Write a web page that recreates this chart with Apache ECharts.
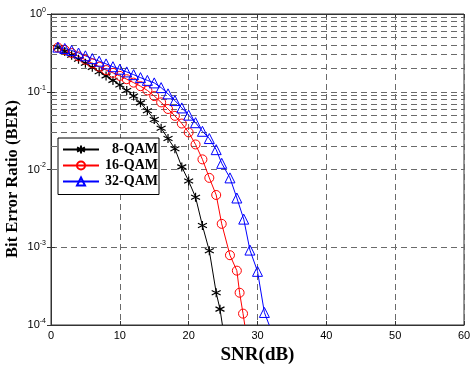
<!DOCTYPE html>
<html><head><meta charset="utf-8">
<script src="https://cdn.jsdelivr.net/npm/echarts@6/dist/echarts.min.js"></script>
<style>html,body{margin:0;padding:0;background:#fff}#c{width:474px;height:367px}</style>
</head><body><div id="c"></div>
<script>
var seriesNames = ['8-QAM', '16-QAM', '32-QAM'];
var snr8 = [1,2,3,4,5,6,7,8,9,10,11,12,13,14,15,16,17,18,19,20,21,22,23,24,24.55,24.9];
var ber8 = [0.37,0.33,0.295,0.262,0.232,0.206,0.181,0.16,0.14,0.122,0.104,0.088,0.072,0.057,0.044,0.034,0.025,0.0185,0.0108,0.0071,0.0044,0.0019,0.0009,0.00026,0.00016,0.0001];
var snr16 = [1,2,3,4,5,6,7,8,9,10,11,12,13,14,15,16,17,18,19,20,21,22,23,24,24.8,26,27,27.4,27.9,28.15];
var ber16 = [0.37,0.345,0.315,0.285,0.258,0.232,0.21,0.19,0.175,0.16,0.145,0.131,0.118,0.104,0.088,0.073,0.06,0.049,0.039,0.03,0.021,0.0135,0.0078,0.0047,0.002,0.00079,0.0005,0.00026,0.00014,0.0001];
var snr32 = [1,2,3,4,5,6,7,8,9,10,11,12,13,14,15,16,17,18,19,20,21,22,23,24,24.8,26,27,28,28.9,30,31,31.7];
var ber32 = [0.375,0.36,0.34,0.315,0.29,0.267,0.247,0.228,0.21,0.195,0.18,0.166,0.152,0.14,0.13,0.113,0.094,0.077,0.062,0.05,0.04,0.031,0.025,0.018,0.012,0.0078,0.0043,0.0023,0.00092,0.00049,0.000145,0.0001];
var xTicks = [0,10,20,30,40,50,60];
var minorGrid = [2e-4,3e-4,4e-4,5e-4,6e-4,7e-4,8e-4,9e-4,2e-3,3e-3,4e-3,5e-3,6e-3,7e-3,8e-3,9e-3,2e-2,3e-2,4e-2,5e-2,6e-2,7e-2,8e-2,9e-2,0.2,0.3,0.4,0.5,0.6,0.7,0.8,0.9];

function pairs(xs, ys, lastPlain) {
  return xs.map(function (x, i) {
    var d = {value: [x, ys[i]]};
    if (lastPlain && i === xs.length - 1) d.symbol = 'none';
    return d;
  });
}
var starPath = 'path://M0,-5L0,5M-4.33,-2.5L4.33,2.5M-4.33,2.5L4.33,-2.5M0,-5';
var chart = echarts.init(document.getElementById('c'), null, {renderer: 'canvas'});
var dashColor = '#6a6a6a';
var tickOnly = {
  axisLine: {show: true, lineStyle: {color: '#333'}},
  axisTick: {show: true, inside: true, length: 4, lineStyle: {color: '#333'}},
  axisLabel: {show: false}, splitLine: {show: false}
};
chart.setOption({
  animation: false,
  backgroundColor: '#fff',
  grid: {left: 51, right: 10, top: 14, bottom: 42, containLabel: false, outerBoundsMode: 'none',
    show: true, borderColor: '#333', borderWidth: 1, backgroundColor: 'transparent'},
  legend: {
    left: 58, top: 138, orient: 'vertical', itemGap: 2, itemWidth: 36, itemHeight: 10,
    backgroundColor: '#fff', borderColor: '#000', borderWidth: 1, padding: [4.5, 1, 6, 4],
    data: seriesNames,
    formatter: function (n) { return '{a|' + n + '}'; },
    textStyle: {rich: {a: {fontFamily: 'Liberation Serif', fontWeight: 'bold', fontSize: 14, lineHeight: 15, color: '#000', width: 54, align: 'right'}}}
  },
  xAxis: [{
    type: 'value', min: 0, max: 60, interval: 10,
    name: 'SNR(dB)', nameLocation: 'middle', nameGap: 17,
    nameTextStyle: {fontFamily: 'Liberation Serif', fontWeight: 'bold', fontSize: 19, color: '#000'},
    axisLine: {show: true, lineStyle: {color: '#333'}},
    axisTick: {show: true, inside: true, length: 4, lineStyle: {color: '#333'}},
    axisLabel: {fontFamily: 'Liberation Sans', fontSize: 11, color: '#000', margin: 5,
      formatter: function (v) { return xTicks.indexOf(v) >= 0 ? String(v) : ''; }},
    splitLine: {show: true, lineStyle: {color: dashColor, type: [6, 4], width: 1}}
  }, Object.assign({type: 'value', min: 0, max: 60, interval: 10, position: 'top'}, tickOnly)],
  yAxis: [{
    type: 'log', logBase: 10, min: 1e-4, max: 1,
    name: 'Bit Error Ratio (BER)', nameLocation: 'middle', nameGap: 30, nameMoveOverlap: false,
    nameTextStyle: {fontFamily: 'Liberation Serif', fontWeight: 'bold', fontSize: 16.5, color: '#000', padding: [0, 0, 0, -19]},
    axisLine: {show: true, lineStyle: {color: '#333'}},
    axisTick: {show: true, inside: true, length: 4, lineStyle: {color: '#333'}},
    axisLabel: {margin: 5, color: '#000',
      formatter: function (v) { var e = Math.round(Math.log10(v)); return '{b|10}{s|' + e + '}'; },
      rich: {b: {fontFamily: 'Liberation Sans', fontSize: 11, color: '#000'},
             s: {fontFamily: 'Liberation Sans', fontSize: 7, color: '#000', verticalAlign: 'top', padding: [0, 0, 8, 0]}}},
    splitLine: {show: true, lineStyle: {color: dashColor, type: [6, 4], width: 1}}
  }, Object.assign({type: 'log', logBase: 10, min: 1e-4, max: 1, position: 'right'}, tickOnly)],
  series: [
    {
      name: seriesNames[0], type: 'line', data: pairs(snr8, ber8, true),
      symbol: starPath, symbolSize: 9, showAllSymbol: true, z: 5,
      lineStyle: {color: '#000', width: 1}, itemStyle: {color: 'none', borderColor: '#000', borderWidth: 1.2},
      markLine: {silent: true, symbol: 'none', label: {show: false}, animation: false, z: 1,
        lineStyle: {color: dashColor, type: [6, 4], width: 1},
        data: minorGrid.map(function (v) { return {yAxis: v}; })}
    },
    {
      name: seriesNames[1], type: 'line', data: pairs(snr16, ber16, true),
      symbol: 'circle', symbolSize: 9, showAllSymbol: true, z: 5,
      lineStyle: {color: '#f00', width: 1}, itemStyle: {color: 'none', borderColor: '#f00', borderWidth: 1}
    },
    {
      name: seriesNames[2], type: 'line', data: pairs(snr32, ber32, true),
      symbol: 'triangle', symbolSize: 10, showAllSymbol: true, z: 5,
      lineStyle: {color: '#00f', width: 1}, itemStyle: {color: 'none', borderColor: '#00f', borderWidth: 1}
    }
  ]
});
</script></body></html>
